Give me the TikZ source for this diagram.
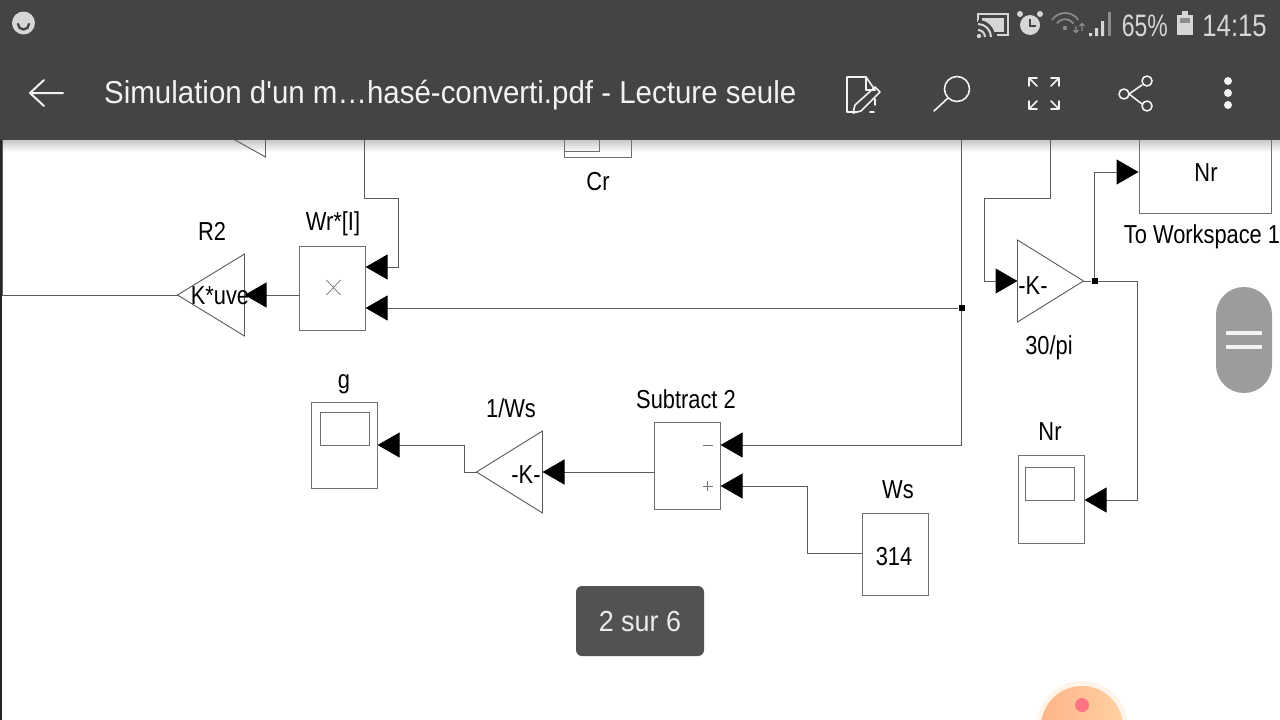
\documentclass[tikz,border=0pt]{standalone}
\usepackage{fontspec}
\usetikzlibrary{arrows.meta,calc,shadings}
\setmainfont{Liberation Sans}
\newfontfamily\blockfont[FakeStretch=0.84]{Liberation Sans}
\newfontfamily\uifont[FakeStretch=0.93]{Liberation Sans}
\newfontfamily\clockfont[FakeStretch=0.83]{Liberation Sans}
\newfontfamily\pctfont[FakeStretch=0.74]{Liberation Sans}
\definecolor{barcol}{HTML}{444444}
\definecolor{wirecol}{HTML}{5A5A5A}
\definecolor{boxcol}{HTML}{707070}
\definecolor{uicol}{HTML}{F2F2F2}
\definecolor{statuscol}{HTML}{D6D6D6}
\definecolor{dimcol}{HTML}{8C8C8C}
\definecolor{btnleft}{HTML}{FFB48A}
\definecolor{btnright}{HTML}{FFD0A2}
\definecolor{btnhalo}{HTML}{FFF4EA}
\definecolor{btndot}{HTML}{FF7484}
\tikzset{
  x=1pt,y=-1pt,
  wire/.style={draw=wirecol,line width=1pt},
  sig/.style={wire,-{Triangle[length=22pt,width=25pt,black]}},
  block/.style={draw=boxcol,line width=1.1pt,inner sep=0pt,anchor=north west},
  gain/.style={draw=wirecol,line width=0.9pt,line join=miter},
  lab/.style={font=\fontsize{26}{28}\selectfont\blockfont,text=black,inner sep=0pt},
  junction/.style={fill=black,draw=none,inner sep=0pt,minimum size=6pt,rectangle},
  uiline/.style={draw=uicol,line width=2pt,line cap=round,line join=round},
}
\newcommand{\boxat}[5]{\node[block,minimum width=#4pt,minimum height=#5pt] (#1) at (#2,#3) {};}
\begin{document}
\begin{tikzpicture}
\useasboundingbox (0,0) rectangle (1280,720);
\fill[white] (0,0) rectangle (1280,720);
% shadow under the bar
\shade[top color=black!22,bottom color=white] (0,140) rectangle (1280,152);
\fill[black!85] (0,140) rectangle (1.5,720);
% diagram
\begin{scope}[xshift=-0.5pt]
\coordinate (r2in) at (245,295); \coordinate (r2out) at (178,295);
\draw[gain] (r2out) -- (245,254) -- (245,336) -- cycle;
\draw[gain] (232,138) -- (266,157) -- (266,138);
\boxat{wr}{299}{246}{66}{84}
\boxat{cr}{564}{120}{67}{37}
\boxat{crin}{564}{120}{35}{31}
\boxat{sub}{654}{422}{66}{87}
\boxat{ws}{862}{513}{66}{82}
\boxat{g}{311}{402}{66}{86}
\boxat{gin}{320}{412}{49}{33}
\boxat{nrs}{1018}{455}{66}{88}
\boxat{nrsin}{1025}{467}{49}{33}
\boxat{tw}{1139}{120}{132}{93}
\coordinate (ktip) at (1084,281); \coordinate (kin) at (1018,281);
\draw[gain] (kin) -- (1018,240) -- (ktip) -- (1018,322) -- cycle;
\coordinate (wsin) at (543,472); \coordinate (wsout) at (477,472);
\draw[gain] (wsout) -- (543,431) -- (543,513) -- cycle;
% junctions
\node[junction] (j1) at (962,308) {};
\node[junction] (j2) at (1095,281) {};
% free ends beneath the bar
\coordinate (top1) at (365,130);
\coordinate (top2) at (962,130);
\coordinate (top3) at (1051,130);
\coordinate (top4) at (3,130);
% wires
\draw[wire] (top1) -- (365,198) -- (399,198) -- (399,267);
\draw[sig] (399,267) -- (wr.east |- 0,267);
\draw[sig] (j1) -- (wr.east |- j1);
\draw[wire] (top2) -- (j1);
\draw[wire] (j1) -- (962,445);
\draw[sig] (962,445) -- (sub.east |- 0,445);
\draw[sig] (wr.west |- r2in) -- (r2in);
\draw[wire] (r2out) -- (3,295) -- (top4);
\draw[sig] (ws.west |- 0,553) -- (808,553) -- (808,486) -- (sub.east |- 0,486);
\draw[sig] (sub.west |- wsin) -- (wsin);
\draw[sig] (wsout) -- (465,472) -- (465,445) -- (g.east |- 0,445);
\draw[sig] (top3) -- (1051,198) -- (985,198) -- (985,281) -- (kin);
\draw[wire] (ktip) -- (j2);
\draw[sig] (j2) -- (1095,172) -- (tw.west |- 0,172);
\draw[sig] (j2) -- (1138,281) -- (1138,500) -- (nrs.east |- 0,500);
% block marks
\draw[draw=boxcol,line width=0.7pt] (327,280) -- (341,295) (341,280) -- (327,295);
\draw[draw=boxcol,line width=0.8pt] (703,445) -- (713,445) (703,486) -- (713,486) (708,481) -- (708,491);
\end{scope}
% labels
\node[lab] (lr2) at (212,231) {R2};
\node[lab] (lwr) at (333,224) {Wr*[I]};
\node[lab] (lcr) at (598,182) {Cr};
\node[lab] (lkuve) at (220,296) {K*uve};
\node[lab] (lsub) at (686,399) {Subtract 2};
\node[lab] (lws) at (898,490) {Ws};
\node[lab] (l314) at (894,557) {314};
\node[lab] (lg) at (344,384) {g};
\node[lab] (lows) at (511,408) {1/Ws};
\node[lab] (lkws) at (526,475) {-K-};
\node[lab] (lk) at (1033,286) {-K-};
\node[lab] (l30) at (1049,348) {30/pi};
\node[lab] (lnr) at (1050,432) {Nr};
\node[lab] (lnrw) at (1206,173) {Nr};
\node[lab] (ltw) at (1202,237) {To Workspace 1};
% top bar
\fill[barcol] (0,0) rectangle (1280,140);
% scroll handle
\fill[gray!78,rounded corners=27.9pt] (1216,287) rectangle (1272,393);
\draw[white!90!gray,line width=3.5pt] (1226,333) -- (1262,333) (1226,347) -- (1262,347);
% toast
\fill[black!68,rounded corners=6pt] (576,586) rectangle (704,656);
\node[font=\fontsize{29}{31}\selectfont\uifont,text=white!92!black,inner sep=0pt] (toast) at (640,622) {2 sur 6};
% orange button
\fill[btnhalo] (1082,727) circle (46);
\shade[left color=btnleft,right color=btnright] (1082,727) circle (41);
\fill[btndot] (1082,705) circle (7);
% face icon
\fill[statuscol] (23.5,23) circle (11.5);
\draw[barcol,line width=2.3pt,line cap=round] (18,24) arc[start angle=180,end angle=0,radius=5.5];
% back arrow
\draw[uiline] (63,93) -- (30,93) (44,80) -- (30,93) -- (44,106);
% title
\node[anchor=west,inner sep=0pt,font=\fontsize{31.7}{33}\selectfont\uifont,text=uicol] (title) at (104,95) {Simulation d'un m…hasé-converti.pdf - Lecture seule};
% status bar
\node[anchor=east,inner sep=0pt,font=\fontsize{31}{33}\selectfont\clockfont,text=statuscol] (clock) at (1267,26) {14:15};
\node[anchor=east,inner sep=0pt,font=\fontsize{31}{33}\selectfont\pctfont,text=statuscol] (pct) at (1168,26) {65\%};
\fill[statuscol] (1177,15) rectangle (1193,35);
\fill[statuscol] (1182,11) rectangle (1188,15);
\fill[dimcol] (1180,18) rectangle (1190,23);
% cast icon
\draw[statuscol,line width=2pt] (978,22) -- (978,14) -- (1008,14) -- (1008,35) -- (997,35);
\fill[statuscol] (982,18) rectangle (1004,32);
\fill[barcol] (978,37) -- (978,20) arc[start angle=270,end angle=360,radius=17] -- cycle;
\fill[statuscol] (979,36) circle (2.2);
\draw[statuscol,line width=2pt] (978,30) arc[start angle=270,end angle=360,radius=7];
\draw[statuscol,line width=2pt] (978,24) arc[start angle=270,end angle=360,radius=13];
% alarm icon
\fill[statuscol] (1030,25) circle (10);
\fill[statuscol] (1020,14) circle (3) (1040,14) circle (3);
\draw[barcol,line width=1.6pt] (1030,19) -- (1030,26) -- (1036,26);
% wifi icon
\draw[dimcol,line width=1.7pt] (1052,19.8) arc[start angle=215,end angle=325,radius=16];
\draw[dimcol,line width=1.7pt] (1057,23.5) arc[start angle=215,end angle=325,radius=10];
\fill[dimcol] (1065,28) circle (2.2);
\draw[dimcol,line width=1.3pt] (1076,26) -- (1076,32) (1073.5,30) -- (1076,32.5) -- (1078.5,30)
  (1082,31) -- (1082,24) (1079.5,26) -- (1082,23.5) -- (1084.5,26);
% signal icon
\fill[statuscol] (1089,33) rectangle (1092,36) (1095,28) rectangle (1098,36) (1101,21) rectangle (1104,36);
\fill[dimcol] (1108,12) rectangle (1110.5,36);
% tool icons
\draw[uiline,line width=1.6pt] (857,112) -- (847,112) -- (847,77) -- (866,77) -- (875,90);
\draw[uiline,line width=1.6pt] (866,77) -- (866,90) -- (875,90);
\draw[uiline,line width=1.6pt] (874,112) -- (870,112);
\draw[uiline,line width=1.6pt] (875,99) -- (875,105);
\draw[uiline,line width=1.6pt] (875,87) -- (880,92) -- (861,111) -- (853,113) -- (855,105) -- cycle;
\draw[uiline,line width=1.6pt] (957,89) circle (12.5);
\draw[uiline,line width=1.6pt] (948,98) -- (934,111);
\draw[uiline,line width=1.6pt] (1029,78) -- (1037,86) (1029,86) -- (1029,78) -- (1037,78)
  (1059,78) -- (1051,86) (1051,78) -- (1059,78) -- (1059,86)
  (1029,109) -- (1037,101) (1029,101) -- (1029,109) -- (1037,109)
  (1059,109) -- (1051,101) (1051,109) -- (1059,109) -- (1059,101);
\draw[uiline,line width=1.6pt] (1129,94) -- (1142,85) (1129,94) -- (1142,104);
\draw[uiline,line width=1.6pt,fill=barcol] (1124,94) circle (5) (1147,81) circle (5) (1147,106) circle (5);
\fill[uicol] (1228,81) circle (4) (1228,93) circle (4) (1228,105) circle (4);
\end{tikzpicture}
\end{document}
